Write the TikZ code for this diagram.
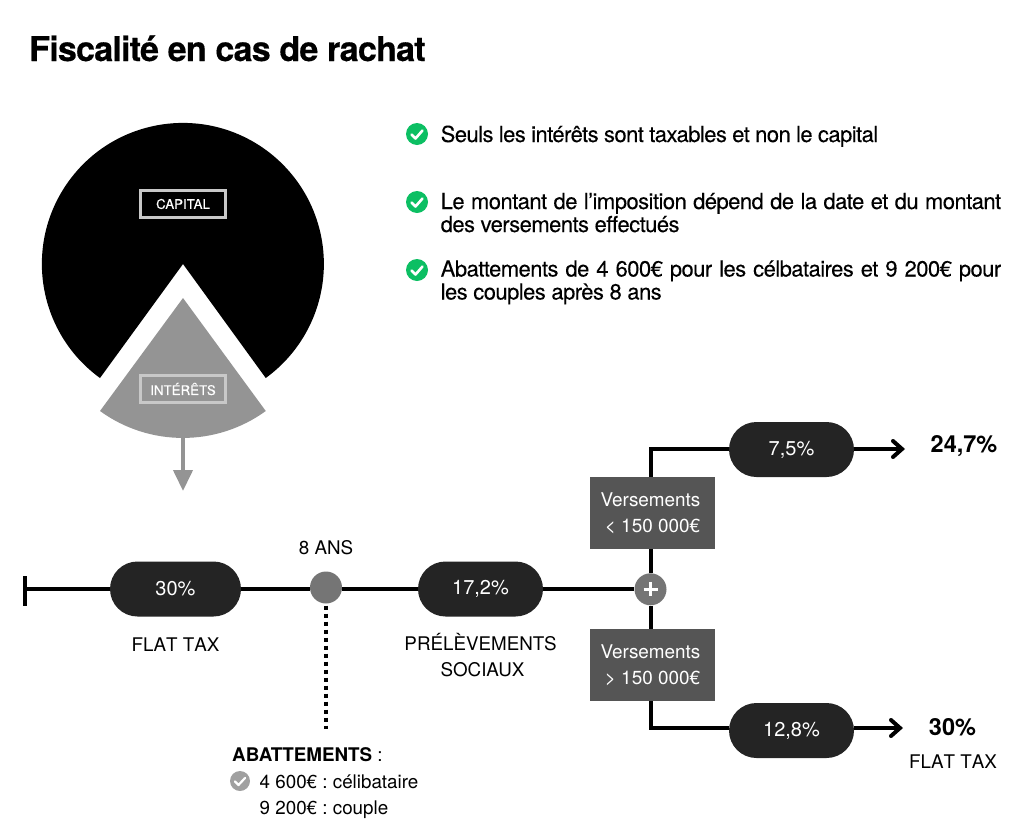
\documentclass[tikz,border=0pt]{standalone}
\usepackage{fontspec}
\setmainfont{TeX Gyre Heros}
\newfontfamily\tightfont[LetterSpace=-2.5,FakeBold=0.12,BoldFeatures={FakeBold=0.35}]{TeX Gyre Heros}
\newfontfamily\semifont[FakeBold=0.3]{TeX Gyre Heros}
\newfontfamily\nokernfont[Kerning=Off]{TeX Gyre Heros}
\usetikzlibrary{arrows.meta,shapes.misc}
\definecolor{pilldark}{HTML}{242424}
\definecolor{boxgrey}{HTML}{555555}
\definecolor{dotgrey}{HTML}{757575}
\definecolor{wedgegrey}{HTML}{949494}
\definecolor{framegrey}{HTML}{C8C8C8}
\definecolor{okgreen}{HTML}{0CBF63}
\definecolor{okgrey}{HTML}{A0A0A0}
\tikzset{
  x=1pt,y=-1pt,
  pill/.style={rounded rectangle,fill=pilldark,text=white,minimum width=#1,minimum height=55pt,inner sep=0pt,font=\fontsize{20}{20}\selectfont},
  condbox/.style={rectangle,fill=boxgrey,text=white,minimum width=125pt,minimum height=72pt,inner sep=0pt,align=center,font=\fontsize{18.9}{26.5}\selectfont},
  dotnode/.style={circle,fill=dotgrey,minimum size=32pt,inner sep=0pt,text=white},
  tagbox/.style={rectangle,draw=framegrey,line width=3pt,text=white,minimum width=85pt,minimum height=26.7pt,inner sep=0pt,font=\semifont\fontsize{13.3}{13.3}\selectfont},
  link/.style={line width=4pt,draw=black},
  body/.style={anchor=base west,inner sep=0pt,align=left,font=\tightfont\fontsize{22}{23}\selectfont},
  small/.style={inner sep=0pt,font=\fontsize{18.8}{26}\selectfont,align=center},
  big/.style={inner sep=0pt,font=\bfseries\fontsize{23.5}{23.5}\selectfont},
  bullet/.style={circle,fill=#1,minimum size=22pt,inner sep=0pt},
  tick/.style={draw=white,line width=2.6pt,line cap=round,line join=round},
  arrowline/.style={link,-{Straight Barb[length=9pt,width=16pt,line width=4pt,line cap=round]}}
}
\newcommand{\okmark}[2]{\draw[tick] (#1-5.5,#2+0.5) -- (#1-1.5,#2+4.5) -- (#1+5.5,#2-3.5);}
\frenchspacing
\begin{document}
\begin{tikzpicture}
\useasboundingbox (0,0) rectangle (1023,833);
% title
\node[anchor=base west,inner sep=0pt,font=\tightfont\bfseries\fontsize{34.2}{34.2}\selectfont] (title) at (29,61) {Fiscalité en cas de rachat};
% pie
\fill[black] (183,264) -- (100,378) arc[start angle=-126,end angle=-414,radius=141pt] -- cycle;
\fill[wedgegrey] (183,298) -- (100,411) arc[start angle=-126,end angle=-54,radius=141pt] -- cycle;
\node[tagbox] (capital) at (183,204) {CAPITAL};
\node[tagbox] (interets) at (183,389) {INTÉRÊTS};
\coordinate (wedgebottom) at (183,437);
\coordinate (wedgearrow) at (183,491);
\draw[line width=4pt,draw=wedgegrey,-{Triangle[length=21pt,width=19pt]}] (wedgebottom) -- (wedgearrow);
% bullets
\node[bullet=okgreen] (b1) at (417,134) {};
\node[bullet=okgreen] (b2) at (417,202) {};
\node[bullet=okgreen] (b3) at (417,270) {};
\okmark{417}{134}\okmark{417}{202}\okmark{417}{270}
\node[body] (t1) at (440.5,142) {\makebox[437.5pt][s]{Seuls les intérêts sont taxables et non le capital}};
\node[body] (t2) at (440.5,232) {\makebox[560.5pt][s]{Le montant de l’imposition dépend de la date et du montant}\\des versements effectués};
\node[body] (t3) at (440.5,299.5) {\makebox[560.5pt][s]{Abattements de 4 600€ pour les célbataires et 9 200€ pour}\\les couples après 8 ans};
% timeline
\coordinate (start) at (25,589);
\coordinate (starttop) at (25,576);
\coordinate (startbot) at (25,606);
\node[pill=131pt] (p30) at (175.5,589) {30\%};
\node[dotnode] (eight) at (326,587.5) {};
\node[pill=125pt] (p172) at (480.5,589) {17,2\%};
\node[dotnode] (plus) at (650.5,589.3) {};
\draw[line width=3pt,white] (plus.center) ++(-7,0) -- ++(14,0);
\draw[line width=3pt,white] (plus.center) ++(0,-7) -- ++(0,14);
\node[condbox] (vlow) at (652.5,513) {Versements\hspace*{4pt}\\[-0.5pt]< 150 000€};
\node[condbox] (vhigh) at (652.5,665) {Versements\hspace*{4pt}\\[-0.5pt]> 150 000€};
\node[pill=125pt] (p75) at (791.5,449.5) {7,5\%};
\node[pill=125pt] (p128) at (791.5,730.5) {12,8\%};
\coordinate (end75) at (905,449);
\coordinate (end128) at (903,728);
\draw[link] (starttop) -- (startbot);
\draw[link] (start) -- (p30);
\draw[link] (p30.east) -- (p30.east -| eight.west);
\draw[link] (p172.west -| eight.east) -- (p172.west);
\draw[link] (p172.east) -- (p172.east -| plus.west);
\draw[link] (plus) -- (plus |- vlow.south);
\draw[link] (plus) -- (plus |- vhigh.north);
\draw[link] (plus |- vlow.north) |- (p75.west |- end75);
\draw[link] (plus |- vhigh.south) |- (p128.west |- end128);
\draw[arrowline] (p75.east |- end75) -- (end75);
\draw[arrowline] (p128.east |- end128) -- (end128);
\coordinate (dotend) at (326,729);
\draw[line width=4pt,dash pattern=on 4pt off 4pt] (eight.south) ++(0,2) -- (dotend);
% labels
\node[big] (r247) at (964,446) {24,7\%};
\node[big] (r30) at (952.5,727) {30\%};
\node[small,font=\nokernfont\fontsize{18.8}{26}\selectfont] (ft2) at (953,762) {FLAT TAX};
\node[small,font=\nokernfont\fontsize{18.8}{26}\selectfont] (ft1) at (175.5,645) {FLAT TAX};
\node[small] (ans) at (326,548) {8 ANS};
\node[small] (ps) at (480.5,655.5) {PRÉLÈVEMENTS\\\hspace*{4pt}SOCIAUX};
\node[anchor=base west,small,align=left] (abat) at (232,761) {\textbf{ABATTEMENTS} :};
\node[anchor=base west,small,align=left] (ab1) at (259.5,788) {4 600€ : célibataire};
\node[anchor=base west,small,align=left] (ab2) at (259.5,814) {9 200€ : couple};
\node[circle,fill=okgrey,minimum size=20pt,inner sep=0pt] (b4) at (240,781) {};
\draw[tick,line width=2.2pt] (235,781.5) -- (238.5,785) -- (245,778);
\end{tikzpicture}
\end{document}
